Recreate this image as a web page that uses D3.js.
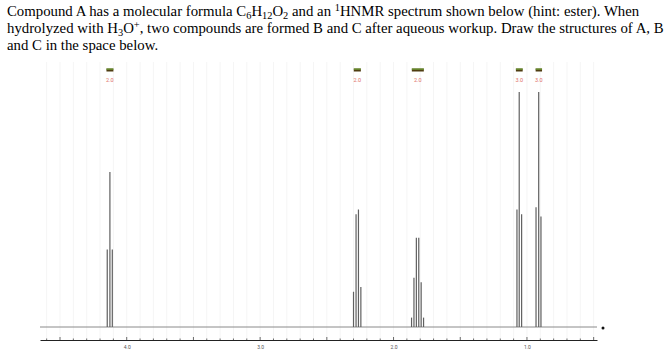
<!DOCTYPE html>
<html>
<head>
<meta charset="utf-8">
<script src="https://cdn.jsdelivr.net/npm/d3@7"></script>
<style>
  body { margin: 0; background: #fff; }
  #q {
    position: absolute; left: 7px; top: 3px;
    white-space: nowrap;
    font-family: "Liberation Serif", "Times New Roman", serif;
    font-size: 14.8px; line-height: 17px; color: #000;
  }
  #q sub, #q sup { font-size: 0.7em; line-height: 0; position: relative; vertical-align: baseline; }
  #q sub { top: 0.25em; }
  #q sup { top: -0.45em; }
  svg { position: absolute; left: 0; top: 0; }
</style>
</head>
<body>
<div id="q">Compound A has a molecular formula C<sub>6</sub>H<sub>12</sub>O<sub>2</sub> and an <sup>1</sup>HNMR spectrum shown below (hint: ester). When<br>hydrolyzed with H<sub>3</sub>O<sup>+</sup>, two compounds are formed B and C after aqueous workup. Draw the structures of A, B<br>and C in the space below.</div>
<svg id="chart" width="667" height="351"></svg>
<script>
// peak positions (ppm) and heights (% of tallest)
const peakPpm = [4.146, 4.126, 4.108,
                 2.300, 2.281, 2.263, 2.245,
                 1.865, 1.847, 1.829, 1.811, 1.793, 1.775,
                 1.075, 1.058, 1.040,
                 0.932, 0.912, 0.895];
const peakInt = [33, 66, 33,
                 15, 48, 50, 17,
                 4, 21, 38, 38, 19, 4,
                 50, 100, 48,
                 51, 100, 47];

// integration regions
const integFrom  = [4.152, 2.298, 1.863, 1.083, 0.935];
const integTo    = [4.100, 2.245, 1.773, 1.032, 0.887];
const integLabel = ["2.0", "2.0", "2.0", "3.0", "3.0"];

const majorTicks = [4.0, 3.0, 2.0, 1.0];

const svg = d3.select("#chart");

let x = d3.scaleLinear().domain([4.65, 0.475]).range([40, 597]),
    y = d3.scaleLinear().domain([0, 100]).range([327, 92]);

// very faint grid every 0.1 ppm
let grid = d3.range(46, 4, -1).map(d => d / 10);
svg.append("g").selectAll("line")
  .data(grid)
  .enter().append("line")
    .attr("x1", d => x(d)).attr("x2", d => x(d))
    .attr("y1", 62).attr("y2", 339)
    .attr("stroke", "#f5f5f5")
    .attr("stroke-width", 1);

// baseline of spectrum
svg.append("line")
  .attr("x1", x(4.65)).attr("x2", x(0.475))
  .attr("y1", y(0)).attr("y2", y(0))
  .attr("stroke", "#8a8a8a").attr("stroke-width", 1);

// peaks
svg.append("g").selectAll("line")
  .data(peakPpm.map((p, i) => ({ppm: p, h: peakInt[i]})))
  .enter().append("line")
    .attr("x1", d => x(d.ppm)).attr("x2", d => x(d.ppm))
    .attr("y1", y(0)).attr("y2", d => y(d.h))
    .attr("stroke", "#606060")
    .attr("stroke-width", 1.2);

// ppm axis
let axis = d3.axisBottom(x)
  .tickValues(majorTicks)
  .tickFormat(d3.format(".1f"))
  .tickSize(0)
  .tickPadding(5);

let ag = svg.append("g")
  .attr("transform", "translate(0,340)")
  .call(axis);
ag.select(".domain").attr("stroke", "#222").attr("stroke-width", 1);
ag.selectAll("text")
  .attr("font-family", "Roboto, sans-serif")
  .attr("font-size", 5)
  .attr("fill", "#555");

// minor ticks (0.1) and mid ticks (0.5), pointing up
ag.selectAll("line.minor")
  .data(grid)
  .enter().append("line")
    .classed("minor", true)
    .attr("x1", d => x(d)).attr("x2", d => x(d))
    .attr("y1", 0)
    .attr("y2", d => Math.round(d * 10) % 5 === 0 ? -3 : -1.5)
    .attr("stroke", "#444")
    .attr("stroke-width", 0.8);

// integration marks
let integ = svg.append("g");
integFrom.forEach((f, i) => {
  let x0 = x(f), x1 = x(integTo[i]);
  integ.append("rect")
    .attr("x", x0).attr("y", 68.5)
    .attr("width", x1 - x0).attr("height", 3)
    .attr("fill", "#4f3d12");
  integ.append("rect")
    .attr("x", x0).attr("y", 68.5)
    .attr("width", x1 - x0).attr("height", 1.2)
    .attr("fill", "#6fa236");
  integ.append("text")
    .attr("x", (x0 + x1) / 2).attr("y", 82)
    .attr("text-anchor", "middle")
    .attr("font-family", "Roboto, sans-serif")
    .attr("font-size", 5.5)
    .attr("fill", "#e0706a")
    .text(integLabel[i]);
});

// end marker
svg.append("circle")
  .attr("cx", x(0.43)).attr("cy", 328)
  .attr("r", 1.5)
  .attr("fill", "#111");
</script>
</body>
</html>
